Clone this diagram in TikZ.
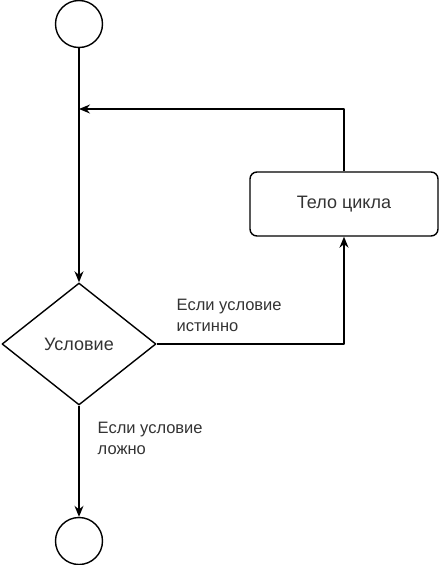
\documentclass[tikz,border=0pt]{standalone}
\usepackage{fontspec}
\setmainfont{Liberation Sans}
\usetikzlibrary{arrows.meta,shapes.geometric}
\definecolor{txtgray}{HTML}{333333}
\begin{document}
\begin{tikzpicture}[>={Stealth[length=11pt,width=9pt]},line join=round,x=1pt,y=-1pt,
		line width=1.4pt,font=\fontsize{18}{20.5}\selectfont,text=txtgray,
		term/.style={draw,circle,minimum size=47pt,inner sep=0pt},
		cond/.style={draw,diamond,minimum width=154pt,minimum height=122pt,inner sep=0pt},
		block/.style={draw,rounded corners=7pt,minimum width=188pt,minimum height=64pt},
		lbl/.style={align=left,inner sep=0pt,anchor=north west,font=\fontsize{16.5}{21}\selectfont}]
	\useasboundingbox (0,0) rectangle (441,565);
	\node[term] (start) at (79,24) {};
	\node[cond] (check) at (79,344) {Условие};
	\node[block] (body) at (344,204) {Тело цикла};
	\node[term] (stop) at (79,541) {};
	\coordinate (merge) at (79,109);
	% основная линия
	\draw[->] (start) -- (check);
	\draw[->] (check) -- (stop);
	% цикл
	\draw[->] (check.east) -| (body.south);
	\draw[->] (body.north) |- (merge);
	\node[lbl] (yes) at (176,298) {Если условие\\истинно};
	\node[lbl] (no) at (97,421) {Если условие\\ложно};
\end{tikzpicture}
\end{document}
